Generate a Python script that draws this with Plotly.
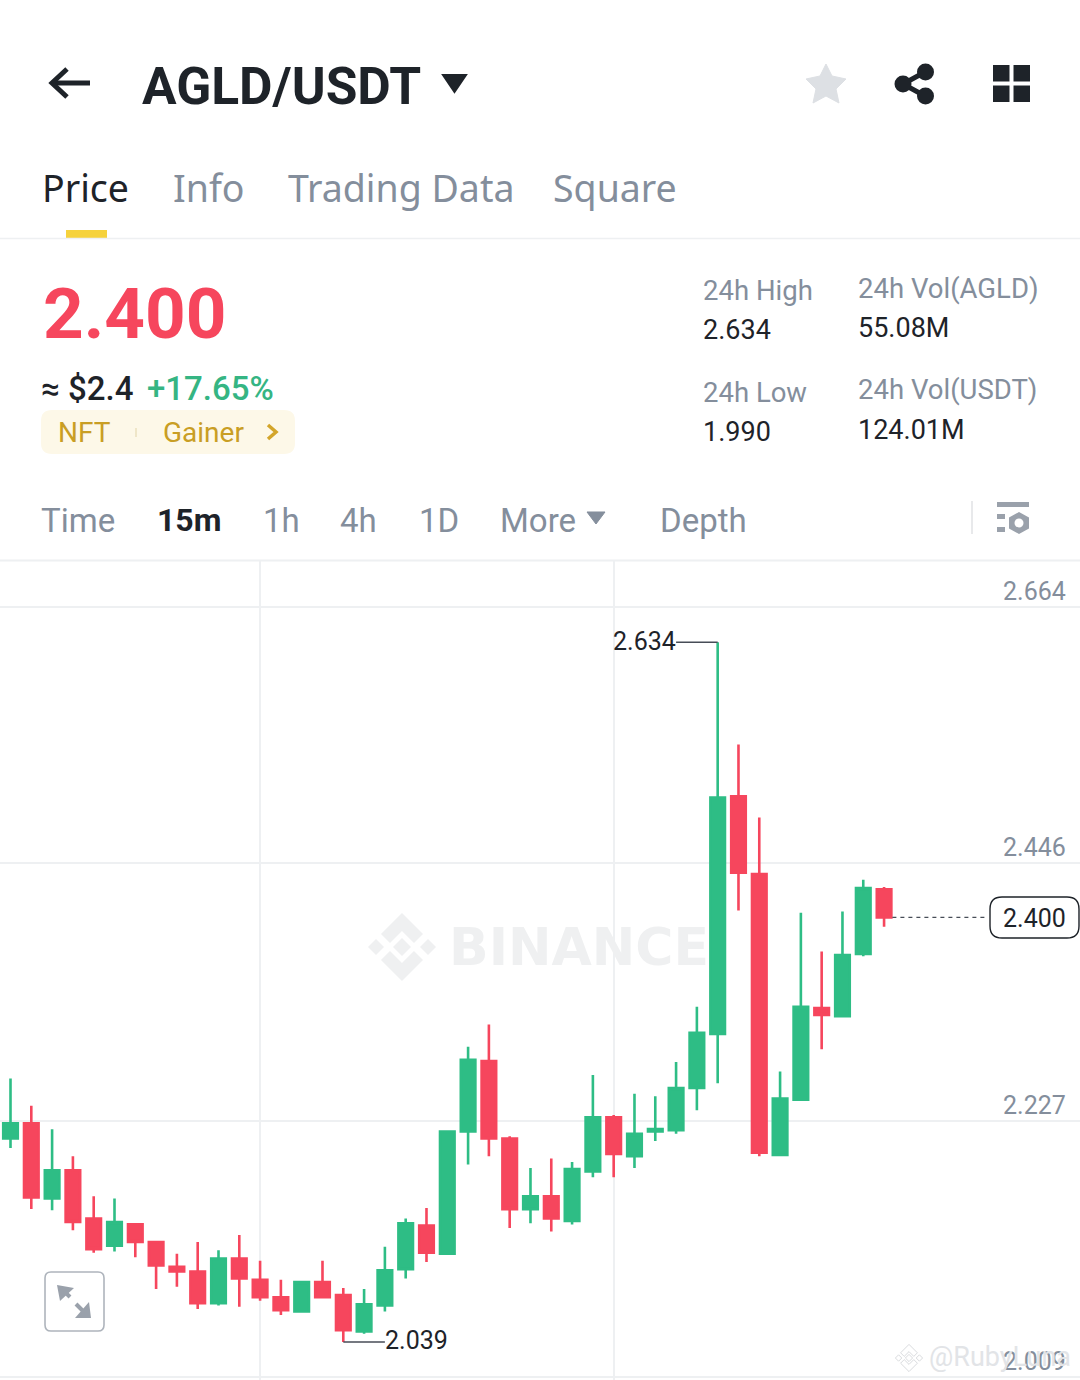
import plotly.graph_objects as go

W = 1080
H = 1380

# AGLD/USDT 15m candles
opens = [2.212, 2.225, 2.161, 2.185, 2.144, 2.121, 2.139, 2.124, 2.103, 2.099, 2.072,
         2.110, 2.092, 2.077, 2.065, 2.090, 2.079, 2.048, 2.070, 2.101, 2.138, 2.114,
         2.218, 2.278, 2.212, 2.152, 2.163, 2.142, 2.184, 2.230, 2.197, 2.218, 2.219,
         2.255, 2.301, 2.503, 2.437, 2.198, 2.245, 2.323, 2.316, 2.369, 2.424]
highs = [2.263, 2.240, 2.220, 2.197, 2.163, 2.161, 2.139, 2.124, 2.114, 2.124, 2.117,
         2.130, 2.108, 2.092, 2.091, 2.108, 2.085, 2.084, 2.120, 2.144, 2.153, 2.218,
         2.290, 2.309, 2.214, 2.187, 2.195, 2.192, 2.266, 2.232, 2.250, 2.248, 2.277,
         2.324, 2.634, 2.547, 2.485, 2.269, 2.404, 2.371, 2.405, 2.432, 2.426]
lows = [2.204, 2.152, 2.151, 2.134, 2.115, 2.116, 2.111, 2.084, 2.086, 2.067, 2.070,
        2.069, 2.074, 2.062, 2.064, 2.076, 2.039, 2.046, 2.065, 2.093, 2.107, 2.113,
        2.190, 2.197, 2.136, 2.140, 2.133, 2.139, 2.179, 2.179, 2.187, 2.210, 2.216,
        2.236, 2.259, 2.406, 2.197, 2.197, 2.245, 2.288, 2.316, 2.367, 2.392]
closes = [2.225, 2.162, 2.185, 2.141, 2.118, 2.141, 2.124, 2.104, 2.099, 2.072, 2.110,
          2.093, 2.077, 2.066, 2.090, 2.077, 2.049, 2.071, 2.100, 2.140, 2.115, 2.218,
          2.279, 2.212, 2.152, 2.163, 2.144, 2.186, 2.230, 2.199, 2.216, 2.220, 2.255,
          2.302, 2.502, 2.438, 2.200, 2.246, 2.324, 2.317, 2.368, 2.425, 2.400]
candle_index = list(range(len(closes)))

price_ticks = [2.664, 2.446, 2.227, 2.009]
price_labels = ['2.664', '2.446', '2.227', '2.009']
time_grid = [12, 29]
last_price = 2.400
high_price = 2.634
high_index = 34
low_price = 2.039
low_index = 16

tabs = [('Price', 42, '#1E2329'), ('Info', 173, '#848E9C'),
        ('Trading Data', 288, '#848E9C'), ('Square', 553, '#848E9C')]
intervals = [('Time', 41), ('15m', 157), ('1h', 263), ('4h', 340), ('1D', 419), ('More', 500), ('Depth', 660)]
stats = [('24h High', '2.634', 703, 290), ('24h Vol(AGLD)', '55.08M', 858, 288),
         ('24h Low', '1.990', 703, 392), ('24h Vol(USDT)', '124.01M', 858, 390)]

GREEN = '#2EBD85'
RED = '#F6465D'
DARK = '#1E2329'
GREY = '#848E9C'
GRID = '#EEF0F2'
FONT = 'Roboto'


def px(x):
    return x / W


def py(y):
    return 1 - y / H


annotations = []
shapes = []


def label(text, x, y, size, color=DARK, anchor='left', font=FONT, bold=False, weight=None):
    annotations.append(dict(text=f'<b>{text}</b>' if bold else text, x=px(x - 2), y=py(y),
                            xref='paper', yref='paper', xanchor=anchor, yanchor='middle',
                            showarrow=False, font=dict(family=font, size=size, color=color, weight=weight)))


def poly(points, fill=None, line=None, width=0, layer='above', closed=True):
    d = 'M ' + ' L '.join(f'{px(a):.5f} {py(b):.5f}' for a, b in points) + (' Z' if closed else '')
    shapes.append(dict(type='path', path=d, xref='paper', yref='paper', layer=layer,
                       fillcolor=fill if fill else 'rgba(0,0,0,0)',
                       line=dict(color=line if line else 'rgba(0,0,0,0)', width=width)))


def rounded(x0, y0, x1, y1, r, fill=None, line=None, width=0):
    d = f'M {px(x0 + r):.5f} {py(y0):.5f} L {px(x1 - r):.5f} {py(y0):.5f} '
    d += f'Q {px(x1):.5f} {py(y0):.5f} {px(x1):.5f} {py(y0 + r):.5f} '
    d += f'L {px(x1):.5f} {py(y1 - r):.5f} Q {px(x1):.5f} {py(y1):.5f} {px(x1 - r):.5f} {py(y1):.5f} '
    d += f'L {px(x0 + r):.5f} {py(y1):.5f} Q {px(x0):.5f} {py(y1):.5f} {px(x0):.5f} {py(y1 - r):.5f} '
    d += f'L {px(x0):.5f} {py(y0 + r):.5f} Q {px(x0):.5f} {py(y0):.5f} {px(x0 + r):.5f} {py(y0):.5f} Z'
    shapes.append(dict(type='path', path=d, xref='paper', yref='paper',
                       fillcolor=fill if fill else 'rgba(0,0,0,0)',
                       line=dict(color=line if line else 'rgba(0,0,0,0)', width=width)))


def circle(cx, cy, r, fill):
    shapes.append(dict(type='circle', xref='paper', yref='paper', x0=px(cx - r), x1=px(cx + r),
                       y0=py(cy + r), y1=py(cy - r), fillcolor=fill, line=dict(width=0)))


def binance_logo(cx, cy, s, fill, line=None, width=0, layer='below'):
    top = [(0, -34), (21, -13), (12, -4), (0, -16), (-12, -4), (-21, -13)]
    poly([(cx + a * s, cy + b * s) for a, b in top], fill, line, width, layer)
    poly([(cx + a * s, cy - b * s) for a, b in top], fill, line, width, layer)
    for dx, r in [(0, 9), (-26, 8), (26, 8)]:
        poly([(cx + (dx - r) * s, cy), (cx + dx * s, cy - r * s), (cx + (dx + r) * s, cy), (cx + dx * s, cy + r * s)],
             fill, line, width, layer)


# header
poly([(90, 83), (53, 83)], line=DARK, width=5, closed=False)
poly([(67, 69), (52, 83), (67, 97)], line=DARK, width=5, closed=False)
label('AGLD/USDT', 142, 86, 51.5, DARK, bold=True)
poly([(443, 75), (466, 75), (454.5, 92)], fill=DARK, line=DARK, width=2)

# star, share and grid icons
star = [(826, 64), (832, 76), (846, 79), (836, 89), (839, 103), (826, 96), (813, 103), (816, 89), (806, 79), (820, 76)]
poly(star, fill='#DDE0E4', line='#DDE0E4', width=1)
poly([(925, 72), (903, 84), (925, 96)], line=DARK, width=5, closed=False)
circle(925.5, 72, 8.5, DARK)
circle(903, 84, 8.5, DARK)
circle(925.5, 96, 8.5, DARK)
for x0 in [993, 1013.5]:
    for y0 in [65, 85.5]:
        poly([(x0, y0), (x0 + 16.5, y0), (x0 + 16.5, y0 + 16.5), (x0, y0 + 16.5)], fill=DARK)

# tabs
for text, x, color in tabs:
    label(text, x, 187, 37.5, color, font='Noto Sans')
poly([(66, 230), (107, 230), (107, 238), (66, 238)], fill='#F6D23C')
poly([(0, 238.5), (W, 238.5)], line=GRID, width=1.5, closed=False)

# price block
label('2.400', 43, 314, 71, RED, bold=True)
label('≈ $2.4', 41, 389, 33, DARK, weight=500)
label('+17.65%', 147, 389, 33, '#35B583', weight=500)
rounded(41, 410, 295, 454, 11, fill='#FDF8E8')
label('NFT', 58, 433, 28, '#C99E24')
poly([(136, 428), (136, 437)], line='#EFE6C8', width=2, closed=False)
label('Gainer', 163, 433, 28, '#C99E24')
poly([(268, 425), (276, 432), (268, 439)], line='#D3A52A', width=3.5, closed=False)

for name, value, x, y in stats:
    label(name, x, y, 27.5, GREY)
    label(value, x, y + 40, 27, DARK)

# interval row
for text, x in intervals:
    if text == '15m':
        label(text, x, 520, 32, DARK, bold=True)
    else:
        label(text, x, 520, 33, GREY)
poly([(587, 512), (605, 512), (596, 524)], fill=GREY, line=GREY, width=1)
poly([(972, 501), (972, 534)], line='#E8E9EB', width=2, closed=False)
poly([(997, 502), (1029, 502), (1029, 507), (997, 507)], fill='#9AA1AB')
poly([(997, 514), (1005, 514), (1005, 519), (997, 519)], fill='#9AA1AB')
poly([(997, 527), (1005, 527), (1005, 532), (997, 532)], fill='#9AA1AB')
poly([(1019, 512), (1029, 517.5), (1029, 528.5), (1019, 534), (1009, 528.5), (1009, 517.5)], fill='#9AA1AB')
circle(1019, 523, 4.5, 'white')
poly([(0, 560.5), (W, 560.5)], line=GRID, width=2, closed=False)

# watermark behind the candles
binance_logo(402, 947, 1, '#EFF0F1')
label('BINANCE', 449, 947, 52, '#EFF0F1', font='DejaVu Sans', bold=True)

# price axis labels sit just above their grid lines
for value, text in zip(price_ticks, price_labels):
    annotations.append(dict(text=text, x=px(1068), y=value, xref='paper', yref='y', xanchor='right',
                            yanchor='bottom', yshift=-1, showarrow=False,
                            font=dict(family=FONT, size=25, color=GREY)))

# high / low leaders and last price line
shapes.append(dict(type='path', xref='x', yref='y', line=dict(color='#474D57', width=1.3),
                   path=f'M {high_index - 2} {high_price} L {high_index} {high_price}'))
shapes.append(dict(type='path', xref='x', yref='y', line=dict(color='#474D57', width=1.3),
                   path=f'M {low_index} {low_price} L {low_index + 2} {low_price}'))
annotations.append(dict(text=str(high_price), x=high_index - 2, y=high_price, xref='x', yref='y', xanchor='right',
                        yanchor='middle', xshift=2, yshift=1, showarrow=False,
                        font=dict(family=FONT, size=25, color=DARK)))
annotations.append(dict(text=str(low_price), x=low_index + 2, y=low_price, xref='x', yref='y', xanchor='left',
                        yanchor='middle', xshift=-2, yshift=2, showarrow=False,
                        font=dict(family=FONT, size=25, color=DARK)))
shapes.append(dict(type='line', xref='x', yref='y', x0=42.4, x1=47, y0=last_price, y1=last_price,
                   line=dict(color='#474D57', width=1.3, dash='4px,4px')))
rounded(990, 897, 1079, 938, 12, fill='white', line=DARK, width=1.4)
annotations.append(dict(text=f'{last_price:.3f}', x=px(1068), y=last_price, xref='paper', yref='y', xanchor='right',
                        yanchor='middle', yshift=-1, showarrow=False, font=dict(family=FONT, size=25, color=DARK)))

# expand button
rounded(45, 1272, 104, 1331, 6, fill='white', line='#AEB4BC', width=1.6)
poly([(57, 1285), (74, 1288), (60, 1301)], fill='#9AA1AB')
poly([(64, 1291), (70, 1297)], line='#9AA1AB', width=4, closed=False)
poly([(75, 1318), (91, 1318), (89, 1302)], fill='#9AA1AB')
poly([(76, 1304), (83, 1311)], line='#9AA1AB', width=4, closed=False)

# user watermark, bottom right
binance_logo(909, 1358, 0.4, 'white', '#D9DBDE', 1, 'above')
label('@RubyLuna', 929, 1357, 27, '#E2E4E7')

fig = go.Figure(go.Candlestick(x=candle_index, open=opens, high=highs, low=lows, close=closes,
                               increasing=dict(line=dict(color=GREEN, width=2.6), fillcolor=GREEN),
                               decreasing=dict(line=dict(color=RED, width=2.6), fillcolor=RED),
                               whiskerwidth=0, showlegend=False))

fig.update_layout(width=W, height=H, margin=dict(l=0, r=0, t=0, b=0), paper_bgcolor='white',
                  plot_bgcolor='white', showlegend=False, annotations=annotations, shapes=shapes,
                  boxgap=0)
fig.update_xaxes(range=[-0.505, 51.42], rangeslider_visible=False, tickvals=time_grid, showticklabels=False,
                 ticks='', showgrid=True, gridcolor=GRID, gridwidth=1.5, zeroline=False, showline=False)
fig.update_yaxes(range=[2.0067, 2.7031], domain=[0, 1 - 561 / H], tickvals=price_ticks, showticklabels=False,
                 ticks='', showgrid=True, gridcolor=GRID, gridwidth=1.5, zeroline=False, showline=False)

fig.write_html("out.html", config={'displayModeBar': False},
               post_script="document.body.style.margin='0';document.body.style.overflow='hidden';")
